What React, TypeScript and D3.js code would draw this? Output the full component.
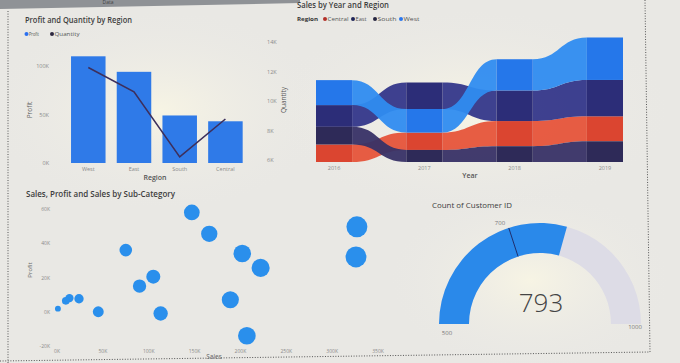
import React from "react";
import * as d3 from "d3";

// Profit and Quantity by Region
const regions = ["West", "East", "South", "Central"];
const regionProfit = [110000, 94000, 49000, 43000];
const regionQuantity = [12266, 10618, 6209, 8780];
const profitTicks = [0, 50000, 100000];
const quantityTicks = [6000, 8000, 10000, 12000, 14000];

// Sales by Year and Region (K)
const years = ["2016", "2017", "2018", "2019"];
const ribbonRegions = ["Central", "East", "South", "West"];
const salesWest = [147, 139, 184, 250];
const salesEast = [128, 156, 180, 214];
const salesSouth = [104, 71, 93, 122];
const salesCentral = [103, 102, 148, 147];

// Sales, Profit by Sub-Category
const subCategories = ["Copiers", "Accessories", "Phones", "Chairs", "Binders", "Storage", "Paper", "Appliances", "Furnishings", "Machines", "Bookcases", "Tables", "Supplies", "Art", "Envelopes", "Labels", "Fasteners"];
const subSales = [147000, 166000, 327000, 326000, 202000, 222000, 75000, 105000, 90000, 189000, 113000, 207000, 45000, 24000, 13600, 9600, 1000];
const subProfit = [58000, 45500, 49600, 32000, 34000, 25600, 36000, 20500, 15000, 7000, -1000, -14000, 0, 7600, 8000, 6400, 1800];
const salesTicks = [0, 50000, 100000, 150000, 200000, 250000, 300000, 350000];
const profitTicks2 = [-20000, 0, 20000, 40000, 60000];

// Gauge
const gaugeMin = 500;
const gaugeMax = 1000;
const gaugeValue = 793;
const gaugeTarget = 700;

const FONT = "'Open Sans', 'DejaVu Sans', sans-serif";
const kFmt = (v: number) => `${Math.round(v / 1000)}K`;

const colors: Record<string, string> = {
  West: "#2577ea",
  East: "#2c2d78",
  South: "#2e2a58",
  Central: "#db4530",
};
const ribbonColors: Record<string, string> = {
  West: "#2f8cf0",
  East: "#34378a",
  South: "#383266",
  Central: "#e6543a",
};
const legendColors: Record<string, string> = {
  Central: "#b3302a",
  East: "#1e2458",
  South: "#262540",
  West: "#2a76ee",
};

function RegionChart() {
  const x = d3.scaleBand<string>().domain(regions).range([59.6, 254.1]).paddingInner(0.245).paddingOuter(0.25);
  const yP = d3.scaleLinear().domain([0, 100000]).range([163, 66]);
  const yQ = d3.scaleLinear().domain([6000, 14000]).range([160, 42]);
  const line = d3.line<number>()
    .x((_, i) => x(regions[i])! + x.bandwidth() / 2)
    .y((d) => yQ(d));
  return (
    <g>
      <text x={25} y={23} fontSize={8.5} fontWeight={600} fill="#3d3d3d" textLength={107} lengthAdjust="spacingAndGlyphs">Profit and Quantity by Region</text>
      <circle cx={26.5} cy={34} r={2} fill="#2a6ff0" />
      <text x={29} y={36} fontSize={5.5} fill="#555" textLength={10} lengthAdjust="spacingAndGlyphs">Profit</text>
      <circle cx={52} cy={34} r={2} fill="#2d2840" />
      <text x={54.5} y={36} fontSize={5.5} fill="#555" textLength={25} lengthAdjust="spacingAndGlyphs">Quantity</text>
      {profitTicks.map((t) => (
        <text key={t} x={49} y={yP(t) + 2} fontSize={5.5} fill="#8a8a8a" textAnchor="end">{kFmt(t)}</text>
      ))}
      {quantityTicks.map((t) => (
        <text key={t} x={267} y={yQ(t) + 2} fontSize={5.5} fill="#8a8a8a">{kFmt(t)}</text>
      ))}
      <text transform="translate(32,110) rotate(-90)" fontSize={6.5} fill="#666" textAnchor="middle">Profit</text>
      <text transform="translate(286,100) rotate(-90)" fontSize={6.5} fill="#555" textAnchor="middle">Quantity</text>
      {regions.map((r, i) => (
        <rect key={r} x={x(r)} y={yP(regionProfit[i])} width={x.bandwidth()} height={yP(0) - yP(regionProfit[i])} fill="#2f7ae8" />
      ))}
      <path d={line(regionQuantity) || ""} fill="none" stroke="#3d2f5c" strokeWidth={1.6} />
      {regions.map((r) => (
        <text key={r} x={x(r)! + x.bandwidth() / 2} y={171} fontSize={5.5} fill="#8a8a8a" textAnchor="middle">{r}</text>
      ))}
      <text x={155} y={180} fontSize={7} fill="#555" textAnchor="middle" fontWeight={600}>Region</text>
    </g>
  );
}

function RibbonChart() {
  const series: Record<string, number[]> = { West: salesWest, East: salesEast, South: salesSouth, Central: salesCentral };
  const x = d3.scaleBand<string>().domain(years).range([316, 623]).paddingInner(0.6).paddingOuter(0);
  const y = d3.scaleLinear().domain([0, 730]).range([162, 38]);
  const bw = x.bandwidth();
  // stack per year by rank: largest on top
  const pos: Record<string, { y0: number; y1: number }[]> = {};
  ribbonRegions.forEach((r) => (pos[r] = []));
  years.forEach((_, yi) => {
    const order = [...ribbonRegions].sort((a, b) => series[a][yi] - series[b][yi]);
    let acc = 0;
    order.forEach((r) => {
      pos[r][yi] = { y0: y(acc), y1: y(acc + series[r][yi]) };
      acc += series[r][yi];
    });
  });
  const ribbonPath = (r: string, i: number) => {
    const a = pos[r][i];
    const b = pos[r][i + 1];
    const x0 = x(years[i])! + bw;
    const x1 = x(years[i + 1])!;
    const xm = (x0 + x1) / 2;
    const p = d3.path();
    p.moveTo(x0, a.y1);
    p.bezierCurveTo(xm, a.y1, xm, b.y1, x1, b.y1);
    p.lineTo(x1, b.y0);
    p.bezierCurveTo(xm, b.y0, xm, a.y0, x0, a.y0);
    p.closePath();
    return p.toString();
  };
  const legendX: Record<string, [number, number]> = { Central: [325, 327.5], East: [353, 355.5], South: [375, 377.5], West: [401, 403.5] };
  const legendW: Record<string, number> = { Central: 21, East: 11, South: 19, West: 16 };
  return (
    <g>
      <text x={297} y={8} fontSize={8.5} fontWeight={600} fill="#3d3d3d" textLength={92} lengthAdjust="spacingAndGlyphs">Sales by Year and Region</text>
      <text x={297} y={21} fontSize={6} fontWeight={700} fill="#333" textLength={21} lengthAdjust="spacingAndGlyphs">Region</text>
      {ribbonRegions.map((r) => (
        <g key={r}>
          <circle cx={legendX[r][0]} cy={19} r={2} fill={legendColors[r]} />
          <text x={legendX[r][1]} y={21} fontSize={6} fill="#555" textLength={legendW[r]} lengthAdjust="spacingAndGlyphs">{r}</text>
        </g>
      ))}
      {ribbonRegions.map((r) =>
        years.slice(0, -1).map((_, i) => (
          <path key={r + i} d={ribbonPath(r, i)} fill={ribbonColors[r]} opacity={0.95} />
        ))
      )}
      {ribbonRegions.map((r) =>
        years.map((yr, i) => (
          <rect key={r + yr} x={x(yr)} y={pos[r][i].y1} width={bw} height={pos[r][i].y0 - pos[r][i].y1} fill={colors[r]} />
        ))
      )}
      {years.map((yr) => (
        <text key={yr} x={x(yr)! + bw / 2} y={170} fontSize={5.5} fill="#8a8a8a" textAnchor="middle">{yr}</text>
      ))}
      <text x={470} y={178} fontSize={7} fontWeight={600} fill="#555" textAnchor="middle">Year</text>
    </g>
  );
}

function ScatterChart() {
  const x = d3.scaleLinear().domain([0, 350000]).range([57, 378]);
  const y = d3.scaleLinear().domain([-20000, 60000]).range([346, 209]);
  const r = d3.scaleSqrt().domain([0, 330000]).range([2.5, 10.5]);
  const idx = d3.range(subCategories.length).sort((a, b) => subSales[b] - subSales[a]);
  return (
    <g>
      <text x={26} y={197} fontSize={8.5} fontWeight={600} fill="#3d3d3d" textLength={149} lengthAdjust="spacingAndGlyphs">Sales, Profit and Sales by Sub-Category</text>
      {profitTicks2.map((t) => (
        <text key={t} x={50} y={y(t) + 2} fontSize={5} fill="#8a8a8a" textAnchor="end">{kFmt(t)}</text>
      ))}
      {salesTicks.map((t) => (
        <text key={t} x={x(t)} y={353} fontSize={5} fill="#8a8a8a" textAnchor="middle">{kFmt(t)}</text>
      ))}
      <text transform="translate(32,270) rotate(-90)" fontSize={6} fill="#666" textAnchor="middle">Profit</text>
      <text x={214} y={359} fontSize={6.5} fill="#666" textAnchor="middle">Sales</text>
      {idx.map((i) => (
        <circle key={subCategories[i]} cx={x(subSales[i])} cy={y(subProfit[i])} r={r(subSales[i])} fill="#2a8fec" />
      ))}
    </g>
  );
}

function Gauge() {
  const cx = 540;
  const cy = 324;
  const inner = 71;
  const outer = 101;
  const a = d3.scaleLinear().domain([gaugeMin, gaugeMax]).range([-Math.PI / 2, Math.PI / 2]);
  const arc = d3.arc<{ s: number; e: number }>().innerRadius(inner).outerRadius(outer).startAngle((d) => d.s).endAngle((d) => d.e);
  const ta = a(gaugeTarget);
  return (
    <g>
      <text x={432} y={208} fontSize={8} fill="#3d3d3d" textLength={80} lengthAdjust="spacingAndGlyphs">Count of Customer ID</text>
      <g transform={`translate(${cx},${cy})`}>
        <path d={arc({ s: -Math.PI / 2, e: Math.PI / 2 }) || ""} fill="#dddce6" />
        <path d={arc({ s: -Math.PI / 2, e: a(gaugeValue) }) || ""} fill="#2a89ea" />
        <line x1={inner * Math.sin(ta)} y1={-inner * Math.cos(ta)} x2={outer * Math.sin(ta)} y2={-outer * Math.cos(ta)} stroke="#1f2f6e" strokeWidth={1} />
      </g>
      <text x={541} y={312} fontSize={26} fill="#444" textAnchor="middle" fontWeight={300}>{gaugeValue}</text>
      <text x={447} y={335} fontSize={6} fill="#777" textAnchor="middle">{gaugeMin}</text>
      <text x={635} y={329} fontSize={6} fill="#777" textAnchor="middle">{gaugeMax}</text>
      <text x={500} y={225} fontSize={6} fill="#777" textAnchor="middle">{gaugeTarget}</text>
    </g>
  );
}

export default function App() {
  return (
    <svg width={680} height={363} style={{ position: "fixed", left: 0, top: 0 }} fontFamily={FONT}>
      <defs>
        <radialGradient id="glow1" cx="0.5" cy="0.5" r="0.5">
          <stop offset="0%" stopColor="#f7f4e4" />
          <stop offset="100%" stopColor="#ebeae6" stopOpacity={0} />
        </radialGradient>
      </defs>
      <rect width={680} height={363} fill="#e9e8e4" />
      <ellipse cx={160} cy={110} rx={170} ry={100} fill="url(#glow1)" />
      <ellipse cx={470} cy={110} rx={200} ry={100} fill="url(#glow1)" />
      <ellipse cx={530} cy={280} rx={140} ry={90} fill="url(#glow1)" />
      <polygon points="0,0 300,0 300,3 0,9" fill="#8f9296" />
      <text x={108} y={4} fontSize={5} fill="#444" textAnchor="middle">Data</text>
      <line x1={8} y1={11} x2={8} y2={363} stroke="#555" strokeWidth={1} strokeDasharray="1,1.6" />
      <line x1={645} y1={0} x2={650} y2={352} stroke="#555" strokeWidth={1} strokeDasharray="1,1.6" />
      <line x1={0} y1={361} x2={650} y2={352} stroke="#555" strokeWidth={1} strokeDasharray="1,1.6" />
      <RegionChart />
      <RibbonChart />
      <ScatterChart />
      <Gauge />
    </svg>
  );
}
